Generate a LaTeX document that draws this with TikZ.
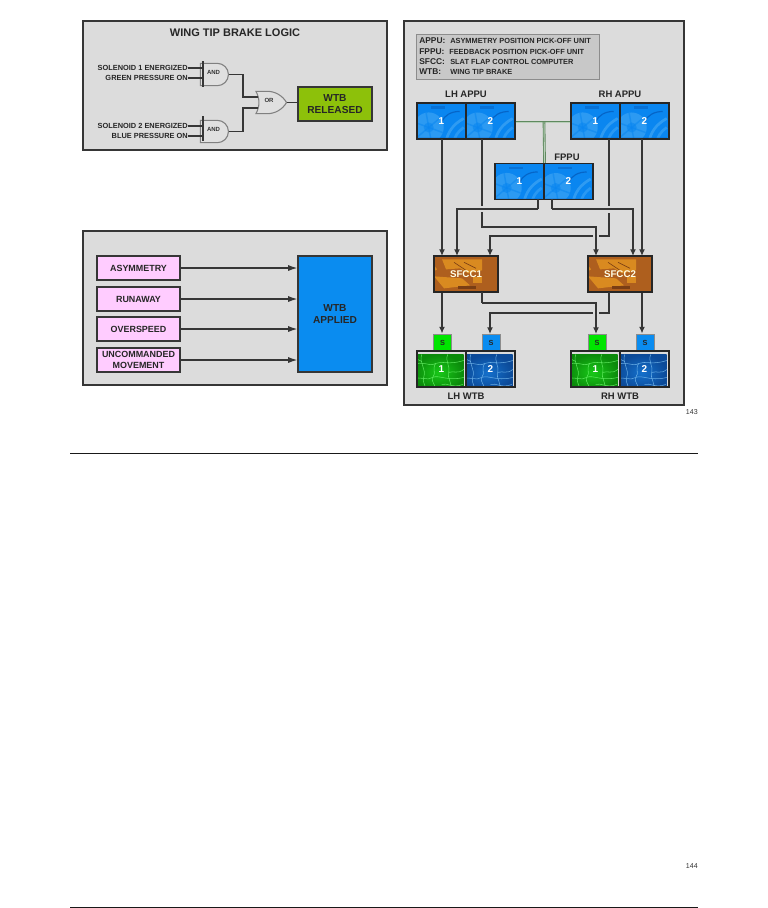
\documentclass[tikz,border=0pt]{standalone}
\usepackage{fontspec}
\setmainfont{Liberation Sans}
\usetikzlibrary{arrows.meta,shapes.gates.logic.US}

\definecolor{panelGrey}{HTML}{DCDCDC}
\definecolor{legendGrey}{HTML}{C8C8C8}
\definecolor{lineDark}{HTML}{363636}
\definecolor{releasedGreen}{HTML}{8DC10A}
\definecolor{appliedBlue}{HTML}{0A8CF0}
\definecolor{causePink}{HTML}{FFCCFF}
\definecolor{appuBlue}{HTML}{0A86F0}
\definecolor{appuDeep}{HTML}{0458B8}
\definecolor{appuPale}{HTML}{4FAEF5}
\definecolor{sfccBrown}{HTML}{AE5F1E}
\definecolor{sfccOrange}{HTML}{D98A20}
\definecolor{sfccDark}{HTML}{7A3E14}
\definecolor{linkEdge}{HTML}{5F8A5F}
\definecolor{linkCore}{HTML}{B9CFB9}
\definecolor{crackGreen}{HTML}{18C818}
\definecolor{crackGreenEdge}{HTML}{0B8A0B}
\definecolor{crackGreenLine}{HTML}{6CF56C}
\definecolor{crackBlue}{HTML}{1470CC}
\definecolor{crackBlueEdge}{HTML}{0C4A98}
\definecolor{crackBlueLine}{HTML}{7CC0F2}

\newcommand{\gateText}[1]{\smash{\makebox[0pt]{#1}}}
\newcommand{\wheelTexture}{%
\fill[appuDeep,opacity=.45] (-8,-18) rectangle (6,-15.5);
\fill[appuPale,opacity=.5] (-10,3) circle (15);
\fill[appuBlue,opacity=.6] (-10,3) circle (5);
\foreach \spoke in {20,80,140,200,260,320}
  \draw[appuBlue,opacity=.55,line width=1.1pt] (-10,3) -- ++(\spoke:15);
\draw[appuDeep,opacity=.7,line width=.9pt] (3,-3) .. controls (6,-9) and (12,-13) .. (21,-13);
\draw[appuPale,opacity=.55,line width=2pt] (7,18) .. controls (9,8) and (14,0) .. (25,-6);
\draw[appuPale,opacity=.45,line width=2pt] (15,18) .. controls (16,12) and (19,7) .. (25,3);
\fill[appuDeep,opacity=.2] (-25,13) rectangle (25,18);
}
\newcommand{\sfccTexture}{%
\fill[sfccOrange] (-8,-18) -- (32,-18) -- (32,-7) -- (18,-4) -- (10,-9) -- (-4,-8) -- cycle;
\fill[sfccOrange] (-16,-1) -- (12,1) -- (20,8) -- (-6,11) -- cycle;
\fill[sfccOrange] (-28,-14) -- (-20,-18) -- (-13,-8) -- (-21,-3) -- cycle;
\fill[sfccOrange] (23,0) rectangle (32,6);
\fill[sfccDark] (-32,-18) -- (-27,-18) -- (-17,-4) -- (-21,-1) -- (-32,-11) -- cycle;
\fill[sfccDark] (-32,9) rectangle (-22,18);
\fill[sfccDark] (8,9) rectangle (26,12);
\fill[sfccDark] (-6,14) rectangle (24,16);
\foreach \trace in {2,6,10}
  \draw[sfccDark,line width=.5pt] (-30,\trace) -- (-20,\trace-4);
\draw[sfccDark,line width=.5pt] (4,-15) -- (16,-7) (14,-15) -- (26,-9);
}
\newcommand{\crackleTexture}[1]{%
\draw[#1,line width=.4pt,opacity=.8]
  (-25,-7) .. controls (-17,-13) and (-10,-5) .. (-3,-9) .. controls (3,-12) and (10,-7) .. (25,-12)
  (-25,7) .. controls (-18,3) and (-12,9) .. (-6,5) .. controls (0,2) and (8,9) .. (25,5)
  (-17,-18) .. controls (-20,-9) and (-12,-4) .. (-15,5) .. controls (-17,10) and (-12,14) .. (-13,18)
  (-3,-9) .. controls (-7,-3) and (-2,0) .. (-6,5) .. controls (-8,10) and (-2,13) .. (-3,18)
  (9,-18) .. controls (6,-11) and (12,-6) .. (10,0) .. controls (8,6) and (14,10) .. (12,18)
  (-25,-15) -- (-17,-11) (3,12) .. controls (8,10) and (14,16) .. (24,12)
  (10,0) .. controls (15,-2) and (19,2) .. (25,-3);
}

\tikzstyle{panel}=[draw=lineDark,fill=panelGrey,line width=1pt]
\tikzstyle{wire}=[draw=lineDark,line width=.95pt]
\tikzstyle{arrowWire}=[wire,-{Latex[length=5pt,width=4.4pt]}]
\tikzstyle{longArrow}=[wire,-{Latex[length=7pt,width=4.6pt]}]
\tikzstyle{feedLink}=[draw=linkEdge,double=linkCore,double distance=.7pt,line width=.65pt]
\tikzstyle{labelText}=[inner sep=0pt,font=\fontsize{5.55}{6.5}\selectfont\bfseries,text=black!85]
\tikzstyle{keyText}=[inner sep=0pt,anchor=west,font=\fontsize{6.3}{7}\selectfont\bfseries,text=black!85]
\tikzstyle{headText}=[inner sep=0pt,font=\fontsize{7.1}{8.5}\selectfont\bfseries,text=black!85]
\tikzstyle{causeBox}=[draw=lineDark,fill=causePink,line width=.9pt,minimum width=62.2pt,minimum height=18pt,inner sep=0pt,align=center,font=\fontsize{6.7}{8.2}\selectfont\bfseries,text=black!85]
\tikzstyle{resultBox}=[draw=lineDark,line width=.9pt,inner sep=0pt,align=center,font=\fontsize{7.6}{9.4}\selectfont\bfseries,text=black!85]
\tikzstyle{gateAnd}=[and gate US,logic gate inputs=nn,logic gate input sep=1pt,draw=black!50,fill=black!12,line width=.8pt,minimum width=15.75pt,minimum height=12.75pt,inner sep=0pt,font=\fontsize{4.5}{5}\selectfont\bfseries,text=black!80]
\tikzstyle{gateOr}=[or gate US,logic gate inputs=nn,logic gate input sep=1pt,draw=black!50,fill=black!12,line width=.8pt,minimum width=15pt,minimum height=12.75pt,inner sep=0pt,font=\fontsize{4.5}{5}\selectfont\bfseries,text=black!80]
\tikzstyle{appuTile}=[draw=black!85,fill=appuBlue,line width=.85pt,minimum width=36.75pt,minimum height=27pt,inner sep=0pt,text=white,font=\fontsize{7.5}{9}\selectfont\bfseries,path picture={\begin{scope}[shift={(path picture bounding box.center)}]\wheelTexture\end{scope}}]
\tikzstyle{sfccTile}=[draw=black!85,fill=sfccBrown,line width=.85pt,minimum width=48pt,minimum height=27pt,inner sep=0pt,text=white!90!yellow,font=\fontsize{7.3}{9}\selectfont\bfseries,path picture={\begin{scope}[shift={(path picture bounding box.center)}]\sfccTexture\end{scope}}]
\tikzstyle{greenTile}=[draw=black!85,line width=.85pt,minimum width=36.75pt,minimum height=27pt,inner sep=0pt,text=white,font=\fontsize{7.5}{9}\selectfont\bfseries,path picture={\begin{scope}[shift={(path picture bounding box.center)}]\shade[inner color=crackGreen,outer color=crackGreenEdge] (-25,-18) rectangle (25,18);\crackleTexture{crackGreenLine}\end{scope}}]
\tikzstyle{blueTile}=[draw=black!85,line width=.85pt,minimum width=36.75pt,minimum height=27pt,inner sep=0pt,text=white,font=\fontsize{7.5}{9}\selectfont\bfseries,path picture={\begin{scope}[shift={(path picture bounding box.center)}]\shade[inner color=crackBlue,outer color=crackBlueEdge] (-25,-18) rectangle (25,18);\crackleTexture{crackBlueLine}\end{scope}}]
\tikzstyle{solenoidBox}=[draw=black!45,line width=.7pt,minimum width=13.5pt,minimum height=12.75pt,inner sep=0pt,font=\fontsize{5.5}{6}\selectfont\bfseries,text=black!85]

\begin{document}
\begin{tikzpicture}[x=0.75pt,y=-0.75pt]
\useasboundingbox (0,0) rectangle (768,908);

% wing tip brake logic panel
\draw[panel] (83,21) rectangle (387,150);
\node[font=\fontsize{8.25}{10}\selectfont\bfseries,text=black!85,inner sep=0pt] (logicTitle) at (235,33) {WING TIP BRAKE LOGIC};

\node[labelText,anchor=east] (solOne) at (188,68) {SOLENOID 1 ENERGIZED};
\node[labelText,anchor=east] (greenOn) at (188,78) {GREEN PRESSURE ON};
\node[labelText,anchor=east] (solTwo) at (188,126) {SOLENOID 2 ENERGIZED};
\node[labelText,anchor=east] (blueOn) at (188,136) {BLUE PRESSURE ON};

\node[gateAnd] (andA) at (213.5,74.5) {\gateText{AND}};
\node[gateAnd] (andB) at (213.5,131.5) {\gateText{AND}};
\node[gateOr] (orGate) at (269,102.5) {\gateText{OR}};
\node[resultBox,fill=releasedGreen,minimum width=55.5pt,minimum height=25.5pt] (released) at (335,104) {WTB\\RELEASED};

\coordinate (barAtop) at (203,61);
\coordinate (barAbot) at (203,87);
\coordinate (barBtop) at (203,116);
\coordinate (barBbot) at (203,141);
\coordinate (orJoinA) at (243,97);
\coordinate (orJoinB) at (243,108);

\draw[wire] (barAtop) -- (barAbot);
\draw[wire] (barBtop) -- (barBbot);
\draw[wire] (solOne.east) -- (solOne.east -| barAtop);
\draw[wire] (greenOn.east) -- (greenOn.east -| barAtop);
\draw[wire] (solTwo.east) -- (solTwo.east -| barBtop);
\draw[wire] (blueOn.east) -- (blueOn.east -| barBtop);
\draw[wire] (andA.east) -| (orJoinA) -- (orJoinA -| orGate.west);
\draw[wire] (andB.east) -| (orJoinB) -- (orJoinB -| orGate.west);
\draw[wire] (orGate.east) -- (orGate.east -| released.west);

% wtb applied panel
\draw[panel] (83,231) rectangle (387,385);
\node[causeBox] (asym) at (138.5,268) {ASYMMETRY};
\node[causeBox] (runaway) at (138.5,299) {RUNAWAY};
\node[causeBox] (overspeed) at (138.5,329) {OVERSPEED};
\node[causeBox] (uncomm) at (138.5,360) {UNCOMMANDED\\MOVEMENT};
\node[resultBox,fill=appliedBlue,minimum width=55.5pt,minimum height=87pt] (applied) at (335,314) {WTB\\APPLIED};

\draw[longArrow] (asym.east) -- (asym.east -| applied.west);
\draw[longArrow] (runaway.east) -- (runaway.east -| applied.west);
\draw[longArrow] (overspeed.east) -- (overspeed.east -| applied.west);
\draw[longArrow] (uncomm.east) -- (uncomm.east -| applied.west);

% system panel
\draw[panel] (404,21) rectangle (684,405);
\draw[draw=black!45,fill=legendGrey,line width=.75pt] (416,34) rectangle (599,79);

\node[keyText] (keyA) at (419,40.5) {APPU:};
\node[keyText] (keyB) at (419,51.5) {FPPU:};
\node[keyText] (keyC) at (419,62) {SFCC:};
\node[keyText] (keyD) at (419,72) {WTB:};
\node[labelText,anchor=west] (textA) at (450,40.5) {ASYMMETRY POSITION PICK-OFF UNIT};
\node[labelText,anchor=west] (textB) at (449,51.5) {FEEDBACK POSITION PICK-OFF UNIT};
\node[labelText,anchor=west] (textC) at (450,62) {SLAT FLAP CONTROL COMPUTER};
\node[labelText,anchor=west] (textD) at (450,72) {WING TIP BRAKE};

\node[headText] (lhAppuText) at (466,94) {LH APPU};
\node[headText] (rhAppuText) at (620,94) {RH APPU};
\node[headText] (fppuText) at (567,157) {FPPU};
\node[headText] (lhWtbText) at (466,396) {LH WTB};
\node[headText] (rhWtbText) at (620,396) {RH WTB};

\node[appuTile] (lhAppuA) at (441.5,121) {1};
\node[appuTile] (lhAppuB) at (490.5,121) {2};
\node[appuTile] (rhAppuA) at (595.5,121) {1};
\node[appuTile] (rhAppuB) at (644.5,121) {2};
\node[appuTile] (fppuA) at (519.5,181.5) {1};
\node[appuTile] (fppuB) at (568.5,181.5) {2};

\node[sfccTile] (sfccA) at (466,274) {SFCC1};
\node[sfccTile] (sfccB) at (620,274) {SFCC2};

\node[solenoidBox,fill=green!90!black] (solLhA) at (442.5,342.5) {S};
\node[solenoidBox,fill=appliedBlue] (solLhB) at (491,342.5) {S};
\node[solenoidBox,fill=green!90!black] (solRhA) at (597,342.5) {S};
\node[solenoidBox,fill=appliedBlue] (solRhB) at (645,342.5) {S};

\node[greenTile] (wtbLhA) at (441.5,369) {1};
\node[blueTile] (wtbLhB) at (490.5,369) {2};
\node[greenTile] (wtbRhA) at (595.5,369) {1};
\node[blueTile] (wtbRhB) at (644.5,369) {2};

% fppu feedback link
\coordinate (feedTee) at (544,122);
\draw[feedLink] (lhAppuB.east |- feedTee) -- (rhAppuA.west |- feedTee);
\draw[feedLink] (feedTee) -- (fppuA.north east);

% appu and fppu to sfcc
\coordinate (lhOutA) at (442,139);
\coordinate (sfccInZ) at (442,256);
\coordinate (lhOut) at (482,139);
\coordinate (lhGapA) at (482,206);
\coordinate (lhGapB) at (482,212);
\coordinate (lhCross) at (482,227);
\coordinate (rhOut) at (609,139);
\coordinate (rhGapA) at (609,206);
\coordinate (rhGapB) at (609,213);
\coordinate (rhCross) at (609,236);
\coordinate (crossGapA) at (599,236);
\coordinate (crossGapB) at (593,236);
\coordinate (fppuOutA) at (538,199);
\coordinate (fppuOutB) at (552,199);
\coordinate (fppuJogA) at (538,209);
\coordinate (fppuJogB) at (552,209);
\coordinate (sfccInA) at (457,256);
\coordinate (sfccInB) at (490,256);
\coordinate (sfccInC) at (596,256);
\coordinate (sfccInD) at (633,256);
\coordinate (rhOutB) at (642,139);
\coordinate (sfccInE) at (642,256);

\draw[arrowWire] (lhOutA) -- (sfccInZ);
\draw[wire] (lhOut) -- (lhGapA);
\draw[arrowWire] (lhGapB) -- (lhCross) -| (sfccInC);
\draw[wire] (rhOut) -- (rhGapA);
\draw[wire] (rhGapB) -- (rhCross) -- (crossGapA);
\draw[arrowWire] (crossGapB) -| (sfccInB);
\draw[arrowWire] (rhOutB) -- (sfccInE);
\draw[wire] (fppuOutA) -- (fppuJogA);
\draw[arrowWire] (fppuJogA) -| (sfccInA);
\draw[wire] (fppuOutB) -- (fppuJogB);
\draw[arrowWire] (fppuJogB) -| (sfccInD);

% sfcc to solenoids
\coordinate (sfccOutA) at (482,292);
\coordinate (sfccOutB) at (609,292);
\coordinate (lowCrossA) at (482,303);
\coordinate (lowCrossB) at (609,313);
\coordinate (lowGapA) at (599,313);
\coordinate (lowGapB) at (593,313);
\coordinate (solInA) at (490,334);
\coordinate (solInB) at (596,334);

\draw[arrowWire] (sfccA.south -| lhOutA) -- (solLhA.north -| lhOutA);
\draw[wire] (sfccOutA) -- (lowCrossA);
\draw[arrowWire] (lowCrossA) -| (solInB);
\draw[wire] (sfccOutB) -- (lowCrossB) -- (lowGapA);
\draw[arrowWire] (lowGapB) -| (solInA);
\draw[arrowWire] (sfccB.south -| rhOutB) -- (solRhB.north -| rhOutB);

% page furniture
\node[font=\fontsize{5.3}{6}\selectfont,text=black!80,inner sep=0pt,anchor=east] (pageA) at (698,412.5) {143};
\node[font=\fontsize{5.3}{6}\selectfont,text=black!80,inner sep=0pt,anchor=east] (pageB) at (698,866.5) {144};
\coordinate (ruleAl) at (70,453.5);
\coordinate (ruleAr) at (698,453.5);
\coordinate (ruleBl) at (70,907.3);
\coordinate (ruleBr) at (698,907.3);
\draw[line width=.8pt,black!90] (ruleAl) -- (ruleAr);
\draw[line width=.8pt,black!90] (ruleBl) -- (ruleBr);
\end{tikzpicture}
\end{document}
